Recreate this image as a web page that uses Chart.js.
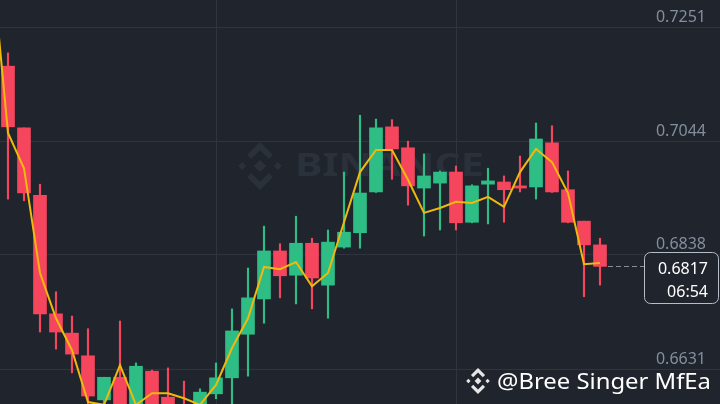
<!DOCTYPE html>
<html lang="en">

<head>
    <meta charset="UTF-8">
    <title>Candles</title>
    <script src="https://cdn.jsdelivr.net/npm/chart.js@4.4.0/dist/chart.umd.min.js"></script>
    <style>
        html, body { margin: 0; padding: 0; background: #1f242d; }
        .wrap { width: 720px; height: 404px; position: relative; }
    </style>
</head>

<body>
    <div class="wrap"><canvas id="chart"></canvas></div>

    <script>
        // candle data, one entry per candle (index 0 = leftmost)
        const opens  = [0.7180, 0.7068, 0.6946, 0.6731, 0.6696, 0.6655, 0.6575, 0.6616, 0.6553, 0.6627, 0.6580, 0.6560, 0.6557, 0.6586, 0.6615, 0.6694, 0.6758, 0.6845, 0.6801, 0.6859, 0.6783, 0.6852, 0.6878, 0.6952, 0.7070, 0.7032, 0.6959, 0.6968, 0.6988, 0.6897, 0.6966, 0.6970, 0.6963, 0.6961, 0.7041, 0.6956, 0.6899, 0.6856];
        const highs  = [0.7204, 0.7068, 0.6966, 0.6771, 0.6727, 0.6704, 0.6616, 0.6718, 0.6642, 0.6629, 0.6633, 0.6609, 0.6595, 0.6642, 0.6740, 0.6814, 0.6890, 0.6858, 0.6908, 0.6868, 0.6883, 0.6988, 0.7091, 0.7084, 0.7083, 0.7044, 0.7021, 0.6990, 0.6999, 0.6965, 0.6995, 0.6981, 0.7017, 0.7077, 0.7072, 0.6990, 0.6899, 0.6868];
        const lows   = [0.6939, 0.6936, 0.6698, 0.6667, 0.6624, 0.6557, 0.6553, 0.6529, 0.6538, 0.6542, 0.6529, 0.6524, 0.6546, 0.6577, 0.6557, 0.6618, 0.6714, 0.6760, 0.6749, 0.6740, 0.6723, 0.6850, 0.6850, 0.6951, 0.6975, 0.6928, 0.6872, 0.6883, 0.6883, 0.6896, 0.6894, 0.6897, 0.6952, 0.6939, 0.6951, 0.6896, 0.6762, 0.6783];
        const closes = [0.7070, 0.6950, 0.6731, 0.6698, 0.6658, 0.6582, 0.6616, 0.6548, 0.6636, 0.6557, 0.6548, 0.6538, 0.6589, 0.6615, 0.6700, 0.6760, 0.6845, 0.6800, 0.6859, 0.6796, 0.6861, 0.6879, 0.6950, 0.7068, 0.7030, 0.6963, 0.6981, 0.6988, 0.6896, 0.6963, 0.6972, 0.6956, 0.6959, 0.7048, 0.6952, 0.6897, 0.6856, 0.6817];

        // moving average, starts one candle before the first visible one
        const maStart = -1;
        const maValues = [0.7367, 0.7059, 0.6995, 0.6805, 0.6723, 0.6665, 0.6571, 0.6566, 0.6638, 0.6566, 0.6587, 0.6587, 0.6578, 0.6566, 0.6602, 0.6669, 0.6723, 0.6816, 0.6812, 0.6825, 0.6781, 0.6805, 0.6897, 0.6988, 0.7028, 0.7028, 0.6974, 0.6914, 0.6923, 0.6934, 0.6932, 0.6943, 0.6925, 0.6988, 0.7030, 0.7006, 0.6950, 0.6821, 0.6823];

        const priceTicks = [0.7251, 0.7044, 0.6838, 0.6631];
        const timeGridAt = [13, 28];
        const lastTime = '06:54';

        const bg = '#1f242d';
        const up = '#2ebd85';
        const down = '#f6465d';

        const candleColors = closes.map((c, i) => c >= opens[i] ? up : down);

        // Binance-ish diamond logo
        function drawLogo(ctx, cx, cy, s, color) {
            ctx.save();
            ctx.translate(cx, cy);
            ctx.fillStyle = color;
            const diamond = (x, y, r) => {
                ctx.beginPath();
                ctx.moveTo(x, y - r); ctx.lineTo(x + r, y); ctx.lineTo(x, y + r); ctx.lineTo(x - r, y);
                ctx.closePath(); ctx.fill();
            };
            diamond(0, 0, 0.26 * s);
            diamond(-0.74 * s, 0, 0.17 * s);
            diamond(0.74 * s, 0, 0.17 * s);
            [-1, 1].forEach(d => {
                ctx.beginPath();
                ctx.moveTo(0, d * -s);
                ctx.lineTo(0.54 * s, d * -0.46 * s);
                ctx.lineTo(0.37 * s, d * -0.29 * s);
                ctx.lineTo(0, d * -0.66 * s);
                ctx.lineTo(-0.37 * s, d * -0.29 * s);
                ctx.lineTo(-0.54 * s, d * -0.46 * s);
                ctx.closePath(); ctx.fill();
            });
            ctx.restore();
        }

        function fitText(ctx, text, x, y, width) {
            const w = ctx.measureText(text).width;
            ctx.save();
            ctx.translate(x, y);
            ctx.scale(width / w, 1);
            ctx.fillText(text, 0, 0);
            ctx.restore();
        }

        const decor = {
            id: 'decor',
            beforeDraw(chart) {
                const ctx = chart.ctx;
                ctx.save();
                ctx.fillStyle = bg;
                ctx.fillRect(0, 0, chart.width, chart.height);
                ctx.restore();
            },
            beforeDatasetsDraw(chart) {
                // watermark
                const ctx = chart.ctx;
                ctx.save();
                drawLogo(ctx, 260, 166, 24, '#2b313b');
                ctx.fillStyle = '#2b313b';
                ctx.font = 'bold 32px "Noto Sans"';
                ctx.textBaseline = 'alphabetic';
                fitText(ctx, 'BINANCE', 295, 176, 189);
                ctx.restore();
            },
            afterDraw(chart) {
                const ctx = chart.ctx;
                const xs = chart.scales.x, ys = chart.scales.y;
                const last = closes.length - 1;
                const py = Math.round(ys.getPixelForValue(closes[last])) + 0.5;
                const px = xs.getPixelForValue(last) + 8;

                ctx.save();
                ctx.strokeStyle = '#848e9c';
                ctx.lineWidth = 1;
                ctx.setLineDash([5, 3]);
                ctx.beginPath();
                ctx.moveTo(px, py);
                ctx.lineTo(644, py);
                ctx.stroke();
                ctx.setLineDash([]);

                // last price box
                ctx.fillStyle = bg;
                ctx.strokeStyle = '#b7bdc6';
                ctx.beginPath();
                ctx.roundRect(644.5, py - 14, 74, 51, 6);
                ctx.fill();
                ctx.stroke();
                ctx.fillStyle = '#ffffff';
                ctx.font = '16px "Noto Sans"';
                ctx.textAlign = 'right';
                ctx.textBaseline = 'middle';
                ctx.fillText(closes[last].toFixed(4), 708, py + 3);
                ctx.fillText(lastTime, 708, py + 26);

                // author tag
                drawLogo(ctx, 478, 381, 13, '#e6e6e6');
                ctx.fillStyle = '#ffffff';
                ctx.textAlign = 'left';
                ctx.textBaseline = 'alphabetic';
                ctx.font = '21px "Noto Sans"';
                fitText(ctx, '@Bree Singer MfEa', 497, 389, 214);
                ctx.restore();
            }
        };

        const wickData = lows.map((l, i) => ({ x: i, y: [l, highs[i]] }));
        const bodyData = opens.map((o, i) => ({ x: i, y: [o, closes[i]] }));
        const maData = maValues.map((v, i) => ({ x: maStart + i, y: v }));

        const noPad = s => {
            s.paddingTop = 0; s.paddingBottom = 0;
            s.paddingLeft = 0; s.paddingRight = 0;
        };

        new Chart(document.getElementById('chart'), {
            type: 'bar',
            data: {
                datasets: [{
                    type: 'line',
                    data: maData,
                    borderColor: '#f0b90b',
                    borderWidth: 2,
                    pointRadius: 0,
                    tension: 0,
                    order: 0
                }, {
                    data: bodyData,
                    backgroundColor: candleColors,
                    barThickness: 13,
                    minBarLength: 2,
                    grouped: false,
                    order: 1
                }, {
                    data: wickData,
                    backgroundColor: candleColors,
                    barThickness: 1.5,
                    grouped: false,
                    order: 2
                }]
            },
            options: {
                responsive: true,
                maintainAspectRatio: false,
                animation: false,
                layout: { padding: 0 },
                scales: {
                    x: {
                        type: 'linear',
                        min: -0.5,
                        max: 44.5,
                        offset: false,
                        afterBuildTicks: s => { s.ticks = timeGridAt.map(v => ({ value: v })); },
                        afterFit: s => { s.height = 0; noPad(s); },
                        ticks: { display: false },
                        grid: { color: '#2f353f', drawTicks: false, offset: false },
                        border: { display: false }
                    },
                    y: {
                        position: 'right',
                        min: 0.656755,
                        max: 0.729995,
                        afterBuildTicks: s => { s.ticks = priceTicks.map(v => ({ value: v })); },
                        afterFit: s => { s.width = 0; noPad(s); },
                        ticks: {
                            mirror: true,
                            padding: -14,
                            labelOffset: -10,
                            color: '#848e9c',
                            font: { family: 'Noto Sans', size: 16 },
                            callback: v => v.toFixed(4)
                        },
                        grid: { color: '#2f353f', drawTicks: false },
                        border: { display: false }
                    }
                },
                plugins: {
                    legend: { display: false },
                    tooltip: { enabled: false }
                }
            },
            plugins: [decor]
        });
    </script>
</body>

</html>
